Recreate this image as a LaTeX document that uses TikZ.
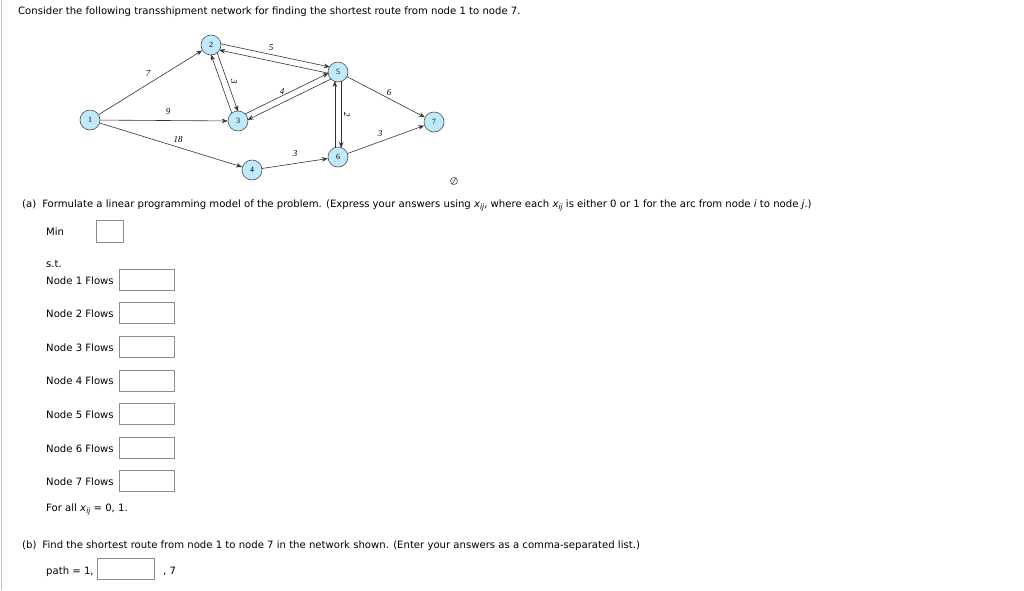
\documentclass[tikz,border=0pt]{standalone}
\usepackage{fontspec}
\setmainfont{DejaVu Sans}
\newfontfamily\numfont{Liberation Serif}
\usetikzlibrary{calc,arrows.meta}
\newcommand{\xij}{\textit{x}\raisebox{-2.5pt}{\fontsize{7.5}{8}\selectfont\textit{ij}}}
\begin{document}
\begin{tikzpicture}[x=1pt,y=-1pt,
  every node/.style={inner sep=0pt},
  txt/.style={anchor=base west,font=\fontsize{10.1}{12}\selectfont},
  nd/.style={circle,draw=black!70,fill=cyan!25!white,minimum size=20pt,font=\numfont\fontsize{8}{9}\selectfont,line width=0.6pt},
  arc/.style={draw=black!80,line width=0.6pt,-{Stealth[length=6pt,width=4.5pt]}},
  wt/.style={font=\numfont\itshape\fontsize{9}{10}\selectfont},
  ans/.style={draw=black!45,fill=white,line width=0.6pt}]
\useasboundingbox (0,0) rectangle (1024,590);
\fill[white] (0,0) rectangle (1024,590);
\draw[black!25,line width=1.5pt] (1.5,0) -- (1.5,590);
\node[txt] (t0) at (18,14) {Consider the following transshipment network for finding the shortest route from node 1 to node 7.};
% network
\node[nd] (n1) at (90,120) {1};
\node[nd] (n2) at (211,45) {2};
\node[nd] (n3) at (238,121) {3};
\node[nd] (n4) at (252,170) {4};
\node[nd] (n5) at (338,72) {5};
\node[nd] (n6) at (338,157) {6};
\node[nd] (n7) at (434,122) {7};
\draw[arc] (n1) -- (n2);
\draw[arc] (n1) -- (n3);
\draw[arc] (n1) -- (n4);
\draw[arc] (n4) -- (n6);
\draw[arc] (n5) -- (n7);
\draw[arc] (n6) -- (n7);
\foreach \a/\b in {2/5,5/2,2/3,3/2,3/5,5/3,5/6,6/5}{
  \draw[arc,shorten <=9pt,shorten >=9pt] ($(n\a)!3.2pt!90:(n\b)$) -- ($(n\b)!3.2pt!-90:(n\a)$);
}
\node[wt] (w12) at (148,74) {7};
\node[wt] (w13) at (168,112) {9};
\node[wt] (w14) at (178,140) {18};
\node[wt] (w25) at (271,48) {5};
\node[wt,rotate=-90] (w23) at (234,82) {3};
\node[wt] (w35) at (282,92) {4};
\node[wt,rotate=-90] (w56) at (347,115) {2};
\node[wt] (w57) at (389,93) {6};
\node[wt] (w67) at (380,134) {3};
\node[wt] (w46) at (295,154) {3};
\node[circle,draw=black!70,minimum size=7pt,line width=0.6pt] (ic) at (454,181) {};
\draw[black!70,line width=0.6pt] ($(ic)+(-2,3.5)$) -- ($(ic)+(2,-3.5)$);
% part a
\node[txt] (ta) at (22,207) {(a)\hspace{6pt}Formulate a linear programming model of the problem. (Express your answers using \xij, where each \xij\ is either 0 or 1 for the arc from node \textit{i} to node \textit{j}.)};
\node[txt] (tmin) at (46,235) {Min};
\draw[ans] (96,220) rectangle (123,242);
\node[txt] (tst) at (46,267) {s.t.};
\foreach \k in {1,...,7}{
  \pgfmathsetmacro{\yy}{269+33.6*(\k-1)}
  \node[txt] (f\k) at (46,\yy+15) {Node \k\ Flows};
  \draw[ans] (119,\yy) rectangle (174,\yy+21);
}
\node[txt] (tall) at (46,511) {For all \xij\ = 0, 1.};
\node[txt] (tb) at (22,548) {(b)\hspace{6pt}Find the shortest route from node 1 to node 7 in the network shown. (Enter your answers as a comma-separated list.)};
\node[txt] (tp) at (46,574) {path = 1,};
\draw[ans] (97,558) rectangle (154,579);
\node[txt] (t7) at (163,574) {, 7};
\end{tikzpicture}
\end{document}
